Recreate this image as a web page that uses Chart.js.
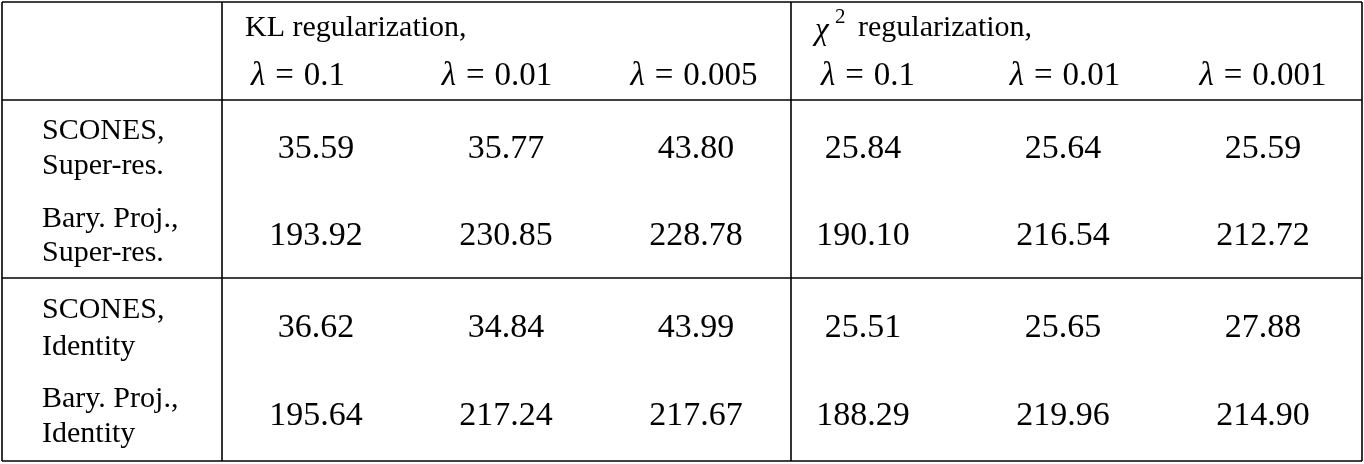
<!DOCTYPE html>
<html><head><meta charset="utf-8">
<script src="https://cdn.jsdelivr.net/npm/chart.js@4"></script>
<style>html,body{margin:0;padding:0;background:#fff}#w{width:1364px;height:464px}</style>
</head><body><div id="w"><canvas id="c"></canvas></div>
<script>
const groups = ["KL regularization,", "regularization,"];
const lambdas = ["λ = 0.1", "λ = 0.01", "λ = 0.005", "λ = 0.1", "λ = 0.01", "λ = 0.001"];
const rowLabels = [["SCONES,", "Super-res."], ["Bary. Proj.,", "Super-res."], ["SCONES,", "Identity"], ["Bary. Proj.,", "Identity"]];
const values = [
  [35.59, 35.77, 43.80, 25.84, 25.64, 25.59],
  [193.92, 230.85, 228.78, 190.10, 216.54, 212.72],
  [36.62, 34.84, 43.99, 25.51, 25.65, 27.88],
  [195.64, 217.24, 217.67, 188.29, 219.96, 214.90]
];
// layout (scale units = pixels)
const colX = [316, 506, 696, 863, 1063, 1263];
const headX = [298, 497, 694, 868, 1065, 1263];
const rowY = [149, 236, 328, 416];
const labelLineY = [[131, 166], [219, 253], [310, 347], [399, 434]];
const vLines = [2, 222, 791, 1362];
const hLines = [2, 100, 278, 461];
const SERIF = '"Liberation Serif", serif';

const tablePlugin = {
  id: 'table',
  afterDraw(chart) {
    const {ctx, scales: {x, y}} = chart;
    ctx.save();
    ctx.strokeStyle = '#000'; ctx.lineWidth = 1.6;
    vLines.forEach(v => { ctx.beginPath(); ctx.moveTo(x.getPixelForValue(v), y.getPixelForValue(2)); ctx.lineTo(x.getPixelForValue(v), y.getPixelForValue(461)); ctx.stroke(); });
    hLines.forEach(h => { ctx.beginPath(); ctx.moveTo(x.getPixelForValue(2), y.getPixelForValue(h)); ctx.lineTo(x.getPixelForValue(1362), y.getPixelForValue(h)); ctx.stroke(); });
    ctx.fillStyle = '#000';
    ctx.textBaseline = 'middle';
    ctx.textAlign = 'left';
    ctx.font = '30px ' + SERIF;
    ctx.fillText(groups[0], x.getPixelForValue(245), y.getPixelForValue(28));
    ctx.font = 'italic 31px ' + SERIF;
    ctx.fillText('χ', x.getPixelForValue(815), y.getPixelForValue(31));
    ctx.font = '21px ' + SERIF;
    ctx.fillText('2', x.getPixelForValue(835), y.getPixelForValue(17));
    ctx.font = '30px ' + SERIF;
    ctx.fillText(groups[1], x.getPixelForValue(858), y.getPixelForValue(28));
    lambdas.forEach((l, i) => {
      const rest = l.split('λ')[1].trim().split('=')[1].trim();
      ctx.font = 'italic 33px ' + SERIF;
      const wl = ctx.measureText('λ').width;
      ctx.font = '33px ' + SERIF;
      const we = ctx.measureText('=').width;
      const wr = ctx.measureText(rest).width;
      const gap = 10;
      const total = wl + gap + we + gap + wr;
      let px = x.getPixelForValue(headX[i]) - total / 2;
      const py = y.getPixelForValue(76);
      ctx.textAlign = 'left';
      ctx.font = 'italic 33px ' + SERIF;
      ctx.fillText('λ', px, py); px += wl + gap;
      ctx.font = '33px ' + SERIF;
      ctx.fillText('=', px, py); px += we + gap;
      ctx.fillText(rest, px, py);
    });
    ctx.textAlign = 'left';
    ctx.font = '30px ' + SERIF;
    rowLabels.forEach((lab, r) => {
      lab.forEach((t, k) => ctx.fillText(t, x.getPixelForValue(42), y.getPixelForValue(labelLineY[r][k])));
    });
    ctx.textAlign = 'center';
    ctx.font = '34px ' + SERIF;
    values.forEach((row, r) => row.forEach((v, c) => {
      ctx.fillText(v.toFixed(2), x.getPixelForValue(colX[c]), y.getPixelForValue(rowY[r]));
    }));
    ctx.restore();
  }
};

new Chart(document.getElementById('c'), {
  type: 'scatter',
  data: { datasets: [{ data: [], pointRadius: 0 }] },
  options: {
    responsive: true, maintainAspectRatio: false, animation: false,
    layout: { padding: 0 },
    plugins: { legend: { display: false }, tooltip: { enabled: false } },
    scales: {
      x: { type: 'linear', min: 0, max: 1364, display: false },
      y: { type: 'linear', min: 0, max: 464, reverse: true, display: false }
    }
  },
  plugins: [tablePlugin]
});
</script></body></html>
